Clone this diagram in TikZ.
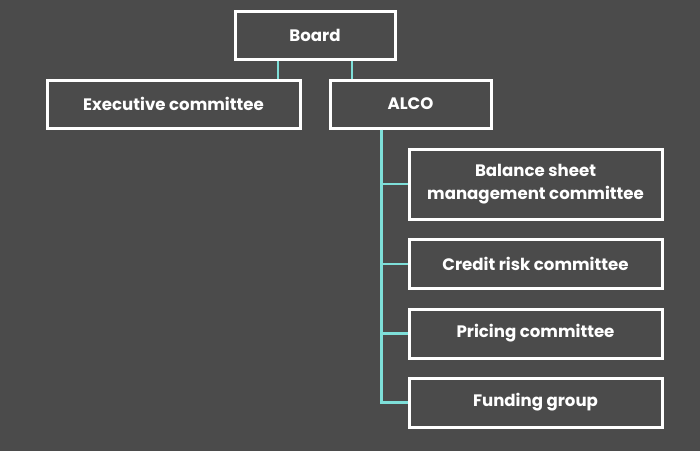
\documentclass[tikz,border=0pt]{standalone}
\usepackage{fontspec}
\setmainfont{Poppins}[UprightFont=* Bold, BoldFont=* Bold]
\definecolor{bg}{HTML}{4B4B4B}
\definecolor{teal}{HTML}{7EDFD9}
\begin{document}
\begin{tikzpicture}[x=1pt,y=-1pt,
  box/.style={draw=white,line width=3pt,text=white,inner sep=0pt,align=center,font=\fontsize{16.6}{23}\selectfont},
  link/.style={draw=teal,line width=2.2pt}]
\fill[bg] (0,0) rectangle (700,451);
\useasboundingbox (0,0) rectangle (700,451);
\node[box,minimum width=160pt,minimum height=48pt] (board) at (315,35) {Board};
\node[box,minimum width=253pt,minimum height=48pt] (exec) at (173.5,104) {Executive committee};
\node[box,minimum width=161pt,minimum height=48pt] (alco) at (410.5,104) {ALCO};
\node[box,minimum width=253pt,minimum height=70pt] (bal) at (535.5,184) {Balance sheet\\management committee};
\node[box,minimum width=253pt,minimum height=49pt] (credit) at (535.5,264) {Credit risk committee};
\node[box,minimum width=253pt,minimum height=49pt] (pricing) at (535.5,333.5) {Pricing committee};
\node[box,minimum width=253pt,minimum height=49pt] (funding) at (535.5,402.5) {Funding group};
\coordinate (c1) at (278,0);
\coordinate (c2) at (352,0);
\coordinate (v) at (381.5,0);
\draw[link] (board.south -| c1) -- (exec.north -| c1);
\draw[link] (board.south -| c2) -- (alco.north -| c2);
\draw[link] (alco.south -| v) -- (v |- funding.west) -- (funding.west);
\draw[link] (v |- bal.west) -- (bal.west);
\draw[link] (v |- credit.west) -- (credit.west);
\draw[link] (v |- pricing.west) -- (pricing.west);
\end{tikzpicture}
\end{document}
